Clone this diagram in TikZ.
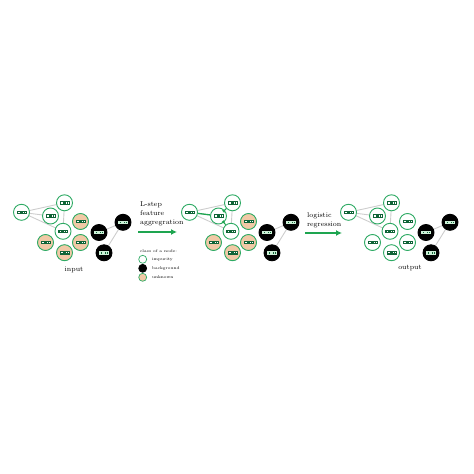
\documentclass[tikz,border=0pt]{standalone}
\usetikzlibrary{arrows.meta,decorations.markings}

\definecolor{nodegreen}{RGB}{46,170,100}
\definecolor{bargreen}{RGB}{15,100,55}
\definecolor{mint}{RGB}{205,240,215}
\definecolor{tan}{RGB}{241,201,166}
\definecolor{edgegray}{RGB}{205,205,205}
\definecolor{arrowgreen}{RGB}{30,165,80}

\pgfdeclarelayer{edges}
\pgfsetlayers{edges,main}

\tikzset{>=latex,every node/.style={font=\fontsize{7}{9}\selectfont},
  impurity/.style={circle,draw=nodegreen,line width=0.9pt,fill=white,minimum size=16pt,inner sep=0pt},
  unknown/.style={impurity,fill=tan},
  background/.style={impurity,draw=black,fill=black},
  link/.style={draw=edgegray,line width=0.9pt},
  midflow/.style={draw=arrowgreen,line width=1pt,postaction={decorate},
    decoration={markings,mark=at position 0.6 with {\arrow{Latex[length=3.5pt,width=3.5pt]}}}},
  bigflow/.style={draw=arrowgreen,line width=1.6pt,-{Latex[length=6pt,width=6pt]}},
  legtext/.style={font=\fontsize{4}{5}\selectfont,anchor=west}
}

% feature vector inside a node: node, bar colour, dot colour
\newcommand{\featbar}[3]{%
  \fill[#2] (#1) ++(-5,-1.8) rectangle ++(10,3.6);
  \fill[#3] (#1) ++(-3.2,-0.7) rectangle ++(1.4,1.4);
  \fill[#3] (#1) ++(1.2,-0.7) rectangle ++(1.0,1.4);
  \fill[#3] (#1) ++(3.0,-0.7) rectangle ++(0.9,1.4);
}

\begin{document}
\begin{tikzpicture}[x=1pt,y=-1pt]
    \useasboundingbox (0,0) rectangle (474,474);

    \foreach \p/\dx/\unk in {1/0/unknown,2/168/unknown,3/327/impurity}{
      \begin{scope}[xshift=\dx]
        \foreach \n/\x/\y in {A/21.5/212.3,B/64.5/202.8,C/50.5/216,D/63/231.3}
            \node[impurity] (\n\p) at (\x,\y) {};
        \foreach \n/\x/\y in {E/80.5/221.5,F/45.5/242.5,G/80.5/242.5,H/64.5/252.7}
            \node[\unk] (\n\p) at (\x,\y) {};
        \foreach \n/\x/\y in {I/99/232.5,J/123/222.3,K/104/252.8}
            \node[background] (\n\p) at (\x,\y) {};
      \end{scope}
      \begin{pgfonlayer}{edges}
        \foreach \a/\b in {A/B,A/C,A/D,B/D,I/J,J/K}
            \draw[link] (\a\p.center) -- (\b\p.center);
      \end{pgfonlayer}
      \foreach \n in {A,B,C,D,E,F,G,H}
          {\featbar{\n\p}{bargreen}{white}}
      \foreach \n in {I,J,K}
          {\featbar{\n\p}{mint}{bargreen}}
    }

    % aggregation in the middle panel
    \draw[arrowgreen,line width=1.3pt] (A2) -- (C2);
    \draw[midflow] (C2) -- (B2);
    \draw[midflow] (C2) -- (D2);

    \node at (74,270) {input};
    \node at (410,268) {output};

    \node[anchor=west,align=left] (agg) at (136.5,214) {L-step\\feature\\aggregration};
    \coordinate (aggS) at (138,232);
    \coordinate (aggE) at (177,232);
    \draw[bigflow] (aggS) -- (aggE);

    \node[anchor=west,align=left] (logreg) at (303.5,220.5) {logistic\\regression};
    \coordinate (regS) at (305,233);
    \coordinate (regE) at (342,233);
    \draw[bigflow] (regS) -- (regE);

    % legend
    \node[legtext] (legtitle) at (136.5,251) {class of a node:};
    \node[impurity,minimum size=8pt,line width=0.7pt] (leg1) at (142.7,259.3) {};
    \node[background,minimum size=8pt,line width=0.7pt] (leg2) at (142.7,268.3) {};
    \node[unknown,minimum size=8pt,line width=0.7pt] (leg3) at (142.7,277.3) {};
    \node[legtext] at ([xshift=1.5pt]leg1.east) {impurity};
    \node[legtext] at ([xshift=1.5pt]leg2.east) {background};
    \node[legtext] at ([xshift=1.5pt]leg3.east) {unknown};
\end{tikzpicture}
\end{document}
